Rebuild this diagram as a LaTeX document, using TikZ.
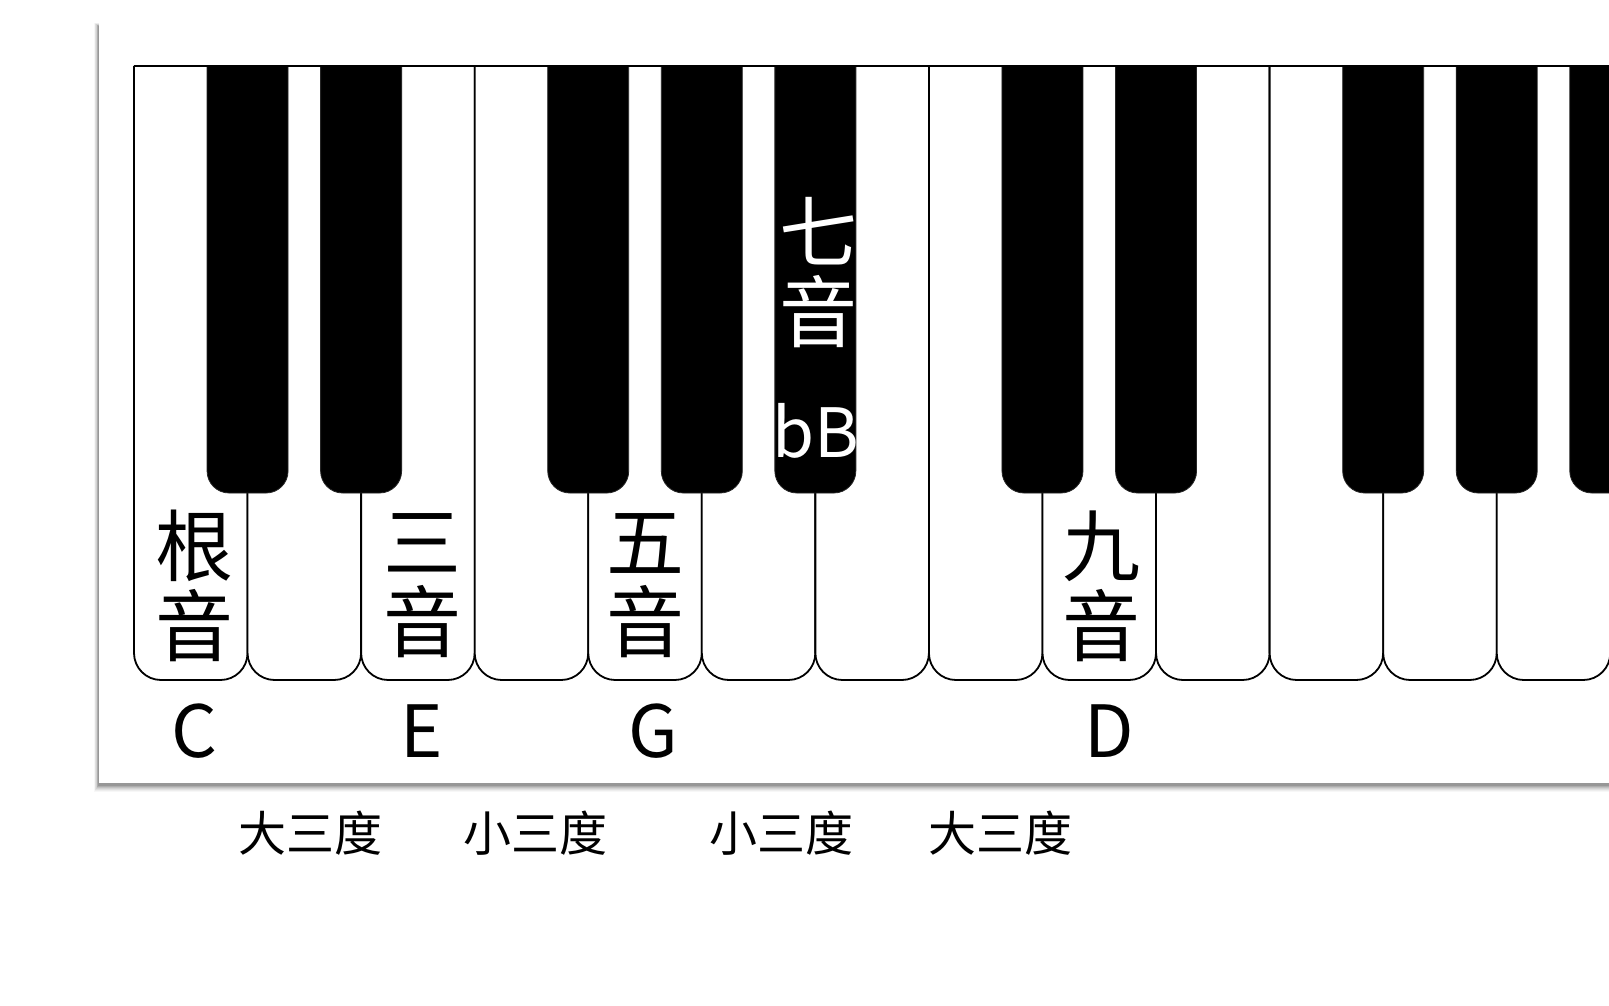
\documentclass[tikz,border=0pt]{standalone}
\usepackage{fontspec}
\setmainfont{Noto Sans CJK SC}
\begin{document}
\begin{tikzpicture}[x=1pt,y=-1pt,
  wkey/.style={draw=black,line width=1.8pt,fill=white,rounded corners=27pt},
  bkey/.style={draw=black!85,line width=0.8pt,fill=black,rounded corners=22pt},
  lbl/.style={font=\fontsize{78}{80}\selectfont,align=center,inner sep=0pt},
  note/.style={font=\fontsize{72}{72}\selectfont,inner sep=0pt,anchor=base},
  intv/.style={font=\fontsize{48}{48}\selectfont,inner sep=0pt}]
\useasboundingbox (0,0) rectangle (1609,1006);
\fill[white] (0,0) rectangle (1609,1006);
\begin{scope}
  \clip (0,0) rectangle (1609,1006);
  % panel shadow (soft, offset left and down)
  \foreach \d/\o in {6/0.03,5/0.04,4/0.05,3/0.06,2/0.08,1/0.1,0/0.12}
    \fill[black,opacity=\o] (98-0.7*\d,26-0.5*\d) rectangle (1650,786+\d);
  \fill[white] (99,23) rectangle (1650,783);
  % white keys
  \foreach \i in {0,...,13} {
    \pgfmathsetmacro\xa{134+\i*113.56}
    \pgfmathsetmacro\xb{\xa+113.56}
    \draw[wkey] (\xa,66) -- (\xa,680) -- (\xb,680) -- (\xb,66);
  }
  % black keys
  \begin{scope}
    \clip (0,66) rectangle (1650,1006);
    \foreach \k in {1,2,4,5,6,8,9,11,12,13} {
      \pgfmathsetmacro\xc{134+\k*113.56}
      \draw[bkey] (\xc-40.5,30) -- (\xc-40.5,493) -- (\xc+40.5,493) -- (\xc+40.5,30) -- cycle;
    }
  \end{scope}
  \draw[line width=2pt] (134,66) -- (1650,66);
\end{scope}
% labels on keys
\node[lbl] (root) at (194,586) {根\\音};
\node[lbl] (third) at (422,586) {三\\音};
\node[lbl] (fifth) at (645,586) {五\\音};
\node[lbl] (ninth) at (1101,586) {九\\音};
\node[lbl,text=white] (seventh) at (818,273) {七\\音};
\node[font=\fontsize{68}{68}\selectfont,text=white,inner sep=0pt] (bb) at (816,431) {bB};
% note names
\node[note] (nc) at (194,757) {C};
\node[note] (ne) at (422,757) {E};
\node[note] (ng) at (653,757) {G};
\node[note] (nd) at (1109,757) {D};
% intervals
\node[intv] (i1) at (310,833) {大三度};
\node[intv] (i2) at (535,833) {小三度};
\node[intv] (i3) at (781,833) {小三度};
\node[intv] (i4) at (1000,833) {大三度};
\end{tikzpicture}
\end{document}
